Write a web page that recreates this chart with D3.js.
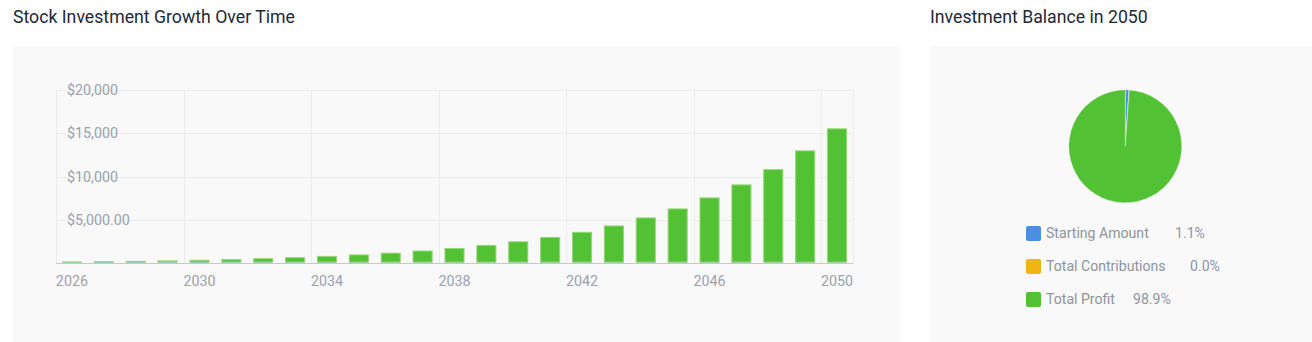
<!DOCTYPE html>
<meta charset="utf-8">
<style>
body { margin: 0; background: #fff; }
svg { display: block; font-family: Roboto, "Noto Sans", sans-serif; }
.title { font-size: 17.7px; fill: #1e2836; }
.tick-label { font-size: 14.3px; fill: #9ba1ad; }
.grid { stroke: #ececec; stroke-width: 1px; }
.legend-label { font-size: 14.1px; fill: #8e94a0; }
</style>
<svg width="1312" height="342"></svg>
<script src="https://d3js.org/d3.v7.min.js"></script>
<script>

// DATA
var years = d3.range(2026, 2051);
var balance = [235, 265, 305, 360, 425, 510, 612, 732, 875, 1045,
               1250, 1500, 1790, 2140, 2560, 3060, 3650, 4385, 5310, 6350,
               7620, 9120, 10880, 13040, 15580];
var startingAmount = 171;
var contributions = 0;
var yTicks = [5000, 10000, 15000, 20000];
var yTickLabels = ["$5,000.00", "$10,000", "$15,000", "$20,000"];
var xTickYears = [2026, 2030, 2034, 2038, 2042, 2046, 2050];
var pieLabels = ["Starting Amount", "Total Contributions", "Total Profit"];
var pieShares = [1.1, 0.0, 98.9];
var pieColors = ["#4a8fe0", "#f0b514", "#52c234"];

var svg = d3.select("svg");

// panels
svg.append("rect").attr("x", 13).attr("y", 46).attr("width", 887).attr("height", 296).attr("fill", "#f9f9f9");
svg.append("rect").attr("x", 930).attr("y", 46).attr("width", 382).attr("height", 296).attr("fill", "#f9f9f9");

svg.append("text").attr("class", "title").attr("x", 13).attr("y", 23).text("Stock Investment Growth Over Time");
svg.append("text").attr("class", "title").attr("x", 930).attr("y", 23).text("Investment Balance in 2050");

// bar chart
var x = d3.scaleBand().domain(years).range([56, 853]);
var y = d3.scaleLinear().domain([0, 20000]).range([263.5, 90]);
var bw = x.bandwidth();

var g = svg.append("g");

g.selectAll(".hgrid").data(yTicks).enter().append("line")
    .attr("class", "grid")
    .attr("x1", 56).attr("x2", 853)
    .attr("y1", function(d) { return Math.round(y(d)) + 0.5; })
    .attr("y2", function(d) { return Math.round(y(d)) + 0.5; });

g.selectAll(".vgrid").data(xTickYears).enter().append("line")
    .attr("class", "grid")
    .attr("x1", function(d) { return Math.round(x(d)) + 0.5; })
    .attr("x2", function(d) { return Math.round(x(d)) + 0.5; })
    .attr("y1", y(20000)).attr("y2", y(0));

g.append("line").attr("class", "grid")
    .attr("x1", 853.5).attr("x2", 853.5).attr("y1", y(20000)).attr("y2", y(0));

var rows = years.map(function(yr, i) {
  return {year: yr, start: startingAmount, contrib: contributions, profit: balance[i] - startingAmount - contributions};
});
var stack = d3.stack().keys(["start", "contrib", "profit"])(rows);
var barFill = {start: "#4a8fe0", contrib: "#f0b514", profit: "#52c234"};
var barStroke = {start: "none", contrib: "none", profit: "#96d677"};

stack.forEach(function(layer) {
  g.selectAll(".bar-" + layer.key).data(layer).enter().append("rect")
      .attr("x", function(d) { return x(d.data.year) + bw * 0.185 + 0.5; })
      .attr("width", bw * 0.63 - 1)
      .attr("y", function(d) { return y(d[1]) + 0.5; })
      .attr("height", function(d) { return Math.max(0, y(d[0]) - y(d[1]) - 0.5); })
      .attr("fill", barFill[layer.key])
      .attr("stroke", barStroke[layer.key])
      .attr("stroke-width", 1);
});

g.append("line")
    .attr("x1", 56).attr("x2", 853)
    .attr("y1", 263.5).attr("y2", 263.5)
    .attr("stroke", "#c8c8c8");

g.selectAll(".ylab").data(yTicks).enter().append("text")
    .attr("class", "tick-label")
    .attr("x", 67)
    .attr("y", function(d) { return y(d); })
    .attr("dy", "0.35em")
    .text(function(d, i) { return yTickLabels[i]; });

g.selectAll(".xlab").data(xTickYears).enter().append("text")
    .attr("class", "tick-label")
    .attr("x", function(d) { return x(d) + bw / 2; })
    .attr("y", 281)
    .attr("dy", "0.35em")
    .attr("text-anchor", "middle")
    .text(function(d) { return d; });

// pie
var pie = d3.pie().sort(null).value(function(d) { return d; });
var arc = d3.arc().innerRadius(0).outerRadius(56.5);
var pg = svg.append("g").attr("transform", "translate(1125.3,146.3)");
pg.selectAll("path").data(pie(pieShares)).enter().append("path")
    .attr("d", arc)
    .attr("fill", function(d, i) { return pieColors[i]; })
    .attr("stroke", "#f9f9f9")
    .attr("stroke-width", 0.4);

// legend
var valueX = [149, 164, 107];
var lg = svg.selectAll(".legend").data(pieLabels).enter().append("g")
    .attr("transform", function(d, i) { return "translate(1026," + (226 + i * 33) + ")"; });
lg.append("rect")
    .attr("width", 15).attr("height", 15).attr("rx", 2)
    .attr("fill", function(d, i) { return pieColors[i]; });
lg.append("text")
    .attr("class", "legend-label")
    .attr("x", 20).attr("y", 7.5).attr("dy", "0.35em")
    .text(function(d) { return d; });
lg.append("text")
    .attr("class", "legend-label")
    .attr("x", function(d, i) { return valueX[i]; })
    .attr("y", 7.5).attr("dy", "0.35em")
    .text(function(d, i) { return pieShares[i].toFixed(1) + "%"; });

</script>
